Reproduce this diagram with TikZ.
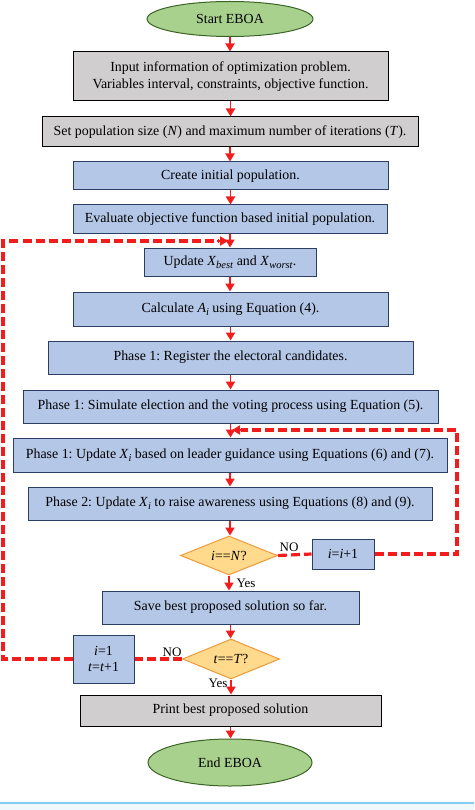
\documentclass[tikz,border=0pt]{standalone}
\usepackage{fontspec}
\setmainfont{Liberation Serif}
\usetikzlibrary{arrows.meta,shapes.geometric}
\definecolor{ovalgreen}{HTML}{A9D18E}
\definecolor{ovalline}{HTML}{3B6324}
\definecolor{boxgray}{HTML}{D0CECE}
\definecolor{boxblue}{HTML}{B4C7E7}
\definecolor{boxline}{HTML}{2B3F63}
\definecolor{condfill}{HTML}{FFD98C}
\definecolor{condline}{HTML}{EE9A3C}
\definecolor{flowred}{HTML}{F21C1C}
\definecolor{rulecyan}{HTML}{86CDF3}
\definecolor{bandcyan}{HTML}{EEF8FD}

\newcommand{\vsub}[2]{\textit{#1}\raisebox{-3pt}{\fontsize{10.5}{11}\selectfont\textit{#2}}}

\tikzset{
    terminal/.style={ellipse, draw=ovalline, fill=ovalgreen, line width=1pt, inner sep=0pt},
    graybox/.style={rectangle, draw=black, fill=boxgray, line width=1pt, inner sep=2pt, align=center},
    bluebox/.style={rectangle, draw=boxline, fill=boxblue, line width=1pt, inner sep=2pt, align=center},
    decision/.style={diamond, draw=condline, fill=condfill, line width=1pt, inner sep=0pt, aspect=2.4},
    flowarrow/.style={draw=flowred, line width=1.8pt, -{Triangle[width=9pt,length=8pt]}},
    loopline/.style={draw=flowred, line width=3.2pt, dash pattern=on 9pt off 4pt},
    flowlabel/.style={font=\fontsize{13}{15}\selectfont, inner sep=0pt}
}

\begin{document}
\frenchspacing
\begin{tikzpicture}[x=1pt, y=-1pt, font=\fontsize{13.9}{16.5}\selectfont]
        \useasboundingbox (0,0) rectangle (474,810);
        % bottom rule of the figure
        \fill[bandcyan] (0,804) rectangle (474,810);
        \draw[rulecyan, line width=2.2pt] (0,803) -- (474,803);

        % main column
        \node[terminal, minimum width=166pt, minimum height=35pt] (start) at (230,19) {Start EBOA};
        \node[graybox, minimum width=315pt, minimum height=49pt] (input) at (230.5,76.5)
            {Input information of optimization problem.\\Variables interval, constraints, objective function.};
        \node[graybox, minimum width=376pt, minimum height=30pt] (setpop) at (230,132)
            {Set population size (\textit{N}) and maximum number of iterations (\textit{T}).};
        \node[bluebox, minimum width=315pt, minimum height=28pt] (create) at (230.5,176) {Create initial population.};
        \node[bluebox, minimum width=314pt, minimum height=28pt] (evaluate) at (230,219)
            {Evaluate objective function based initial population.};
        \node[bluebox, minimum width=172pt, minimum height=28pt] (update) at (230,262)
            {Update \vsub{X}{best} and \vsub{X}{worst}.};
        \node[bluebox, minimum width=315pt, minimum height=34pt] (calc) at (230.5,309)
            {Calculate \vsub{A}{i} using Equation (4).};
        \node[bluebox, minimum width=365pt, minimum height=33pt] (register) at (230.5,357.5)
            {Phase 1: Register the electoral candidates.};
        \node[bluebox, minimum width=415pt, minimum height=33pt] (simulate) at (230.5,406.5)
            {Phase 1: Simulate election and the voting process using Equation (5).};
        \node[bluebox, minimum width=434pt, minimum height=34pt] (leader) at (230,455)
            {Phase 1: Update \vsub{X}{i} based on leader guidance using Equations (6) and (7).};
        \node[bluebox, minimum width=404pt, minimum height=33pt] (aware) at (230,503.5)
            {Phase 2: Update \vsub{X}{i} to raise awareness using Equations (8) and (9).};
        \node[decision, minimum width=97pt, minimum height=39pt] (checkN) at (229,555.5) {\textit{i}==\textit{N}?};
        \node[bluebox, minimum width=62pt, minimum height=30pt] (nextI) at (343,554) {\textit{i}=\textit{i}+1};
        \node[bluebox, minimum width=257pt, minimum height=33pt] (save) at (230.5,607.5)
            {Save best proposed solution so far.};
        \node[decision, minimum width=97pt, minimum height=40pt] (checkT) at (231,659) {\textit{t}==\textit{T}?};
        \node[bluebox, minimum width=61pt, minimum height=48pt] (reset) at (103.5,659)
            {\textit{i}=1\\\textit{t}=\textit{t}+1};
        \node[graybox, minimum width=301pt, minimum height=31pt] (print) at (230.5,710.5)
            {Print best proposed solution};
        \node[terminal, minimum width=164pt, minimum height=47pt] (finish) at (230,762.5) {End EBOA};

        % downward arrows
        \foreach \a/\b in {start/input, input/setpop, setpop/create, create/evaluate, evaluate/update,
                           update/calc, calc/register, register/simulate, simulate/leader, leader/aware,
                           aware/checkN, checkN/save, save/checkT, checkT/print, print/finish}{
            \draw[flowarrow] (\a.south) -- (\a.south |- \b.north);
        }

        % loops
        \coordinate (joinT) at (228,241);
        \coordinate (joinN) at (232,430);
        \draw[loopline] (checkN.east) -- (nextI.west);
        \draw[loopline] (nextI.east) -- (457,554) -- (457,430) -- (241,430);
        \draw[flowarrow] (242,430) -- (joinN);
        \draw[loopline] (checkT.west) -- (reset.east);
        \draw[loopline] (reset.west) -- (3,659) -- (3,241) -- (218,241);
        \draw[flowarrow] (217,241) -- (joinT);

        % branch labels
        \node[flowlabel] (noN) at (289,547) {NO};
        \node[flowlabel] (yesN) at (246,583) {Yes};
        \node[flowlabel] (noT) at (172,652) {NO};
        \node[flowlabel] (yesT) at (218,683) {Yes};
    \end{tikzpicture}
\end{document}
